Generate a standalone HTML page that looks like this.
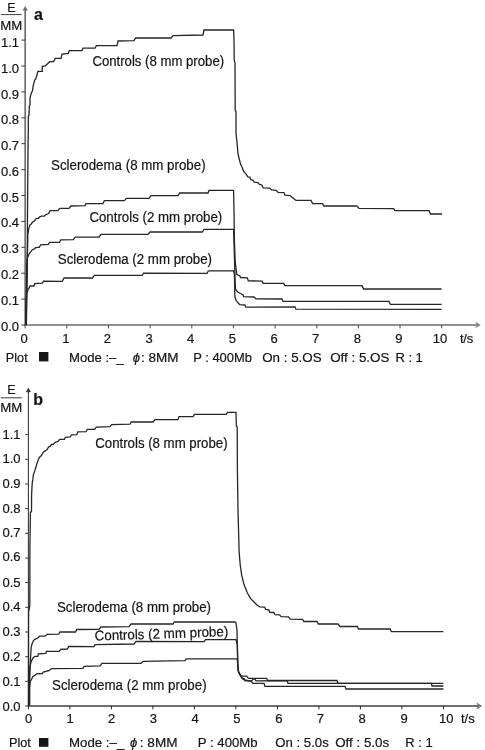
<!DOCTYPE html>
<html><head><meta charset="utf-8"><title>Figure</title><style>
html,body{margin:0;padding:0;background:#fff;width:485px;height:750px;overflow:hidden}
svg{display:block}
text{font-family:"Liberation Sans",Arial,Helvetica,sans-serif;fill:#141414;stroke:#141414;stroke-width:0.2px}
</style></head><body>
<svg width="485" height="750" viewBox="0 0 485 750">
<line x1="25.2" y1="8" x2="25.2" y2="325.8" stroke="#6e6e6e" stroke-width="1.7"/>
<path d="M23.1,10.2 L25.2,6.6 L27.3,10.2 Z" fill="#6e6e6e" stroke="#6e6e6e" stroke-width="0.6" stroke-linejoin="round"/>
<line x1="24.4" y1="325" x2="478.5" y2="325" stroke="#6e6e6e" stroke-width="1.7"/>
<path d="M475.6,322.6 L479.6,325 L475.6,327.4" fill="none" stroke="#6e6e6e" stroke-width="1.1"/>
<line x1="21.4" y1="325.0" x2="25" y2="325.0" stroke="#3a3a3a" stroke-width="1"/>
<line x1="21.4" y1="299.1" x2="25" y2="299.1" stroke="#3a3a3a" stroke-width="1"/>
<line x1="21.4" y1="273.2" x2="25" y2="273.2" stroke="#3a3a3a" stroke-width="1"/>
<line x1="21.4" y1="247.3" x2="25" y2="247.3" stroke="#3a3a3a" stroke-width="1"/>
<line x1="21.4" y1="221.4" x2="25" y2="221.4" stroke="#3a3a3a" stroke-width="1"/>
<line x1="21.4" y1="195.5" x2="25" y2="195.5" stroke="#3a3a3a" stroke-width="1"/>
<line x1="21.4" y1="169.6" x2="25" y2="169.6" stroke="#3a3a3a" stroke-width="1"/>
<line x1="21.4" y1="143.7" x2="25" y2="143.7" stroke="#3a3a3a" stroke-width="1"/>
<line x1="21.4" y1="117.8" x2="25" y2="117.8" stroke="#3a3a3a" stroke-width="1"/>
<line x1="21.4" y1="91.9" x2="25" y2="91.9" stroke="#3a3a3a" stroke-width="1"/>
<line x1="21.4" y1="66.0" x2="25" y2="66.0" stroke="#3a3a3a" stroke-width="1"/>
<line x1="21.4" y1="40.1" x2="25" y2="40.1" stroke="#3a3a3a" stroke-width="1"/>
<line x1="25.2" y1="325" x2="25.2" y2="328.4" stroke="#4a4a4a" stroke-width="1"/>
<line x1="66.8" y1="325" x2="66.8" y2="328.4" stroke="#4a4a4a" stroke-width="1"/>
<line x1="108.5" y1="325" x2="108.5" y2="328.4" stroke="#4a4a4a" stroke-width="1"/>
<line x1="150.1" y1="325" x2="150.1" y2="328.4" stroke="#4a4a4a" stroke-width="1"/>
<line x1="191.8" y1="325" x2="191.8" y2="328.4" stroke="#4a4a4a" stroke-width="1"/>
<line x1="233.4" y1="325" x2="233.4" y2="328.4" stroke="#4a4a4a" stroke-width="1"/>
<line x1="275.1" y1="325" x2="275.1" y2="328.4" stroke="#4a4a4a" stroke-width="1"/>
<line x1="316.8" y1="325" x2="316.8" y2="328.4" stroke="#4a4a4a" stroke-width="1"/>
<line x1="358.4" y1="325" x2="358.4" y2="328.4" stroke="#4a4a4a" stroke-width="1"/>
<line x1="400.0" y1="325" x2="400.0" y2="328.4" stroke="#4a4a4a" stroke-width="1"/>
<line x1="441.7" y1="325" x2="441.7" y2="328.4" stroke="#4a4a4a" stroke-width="1"/>
<line x1="0.8" y1="14.6" x2="21.6" y2="14.6" stroke="#3c3c3c" stroke-width="1"/>
<line x1="28.4" y1="390" x2="28.4" y2="706.5" stroke="#3a3a3a" stroke-width="1.1"/>
<path d="M26.2,391.9 L28.4,387.9 L30.6,391.9 Z" fill="#3a3a3a" stroke="#3a3a3a" stroke-width="0.5"/>
<line x1="28" y1="706" x2="479" y2="706" stroke="#707070" stroke-width="1.8"/>
<path d="M476.8,703.6 L481,706 L476.8,708.4" fill="none" stroke="#606060" stroke-width="1.1"/>
<line x1="25.2" y1="706.0" x2="28.4" y2="706.0" stroke="#3a3a3a" stroke-width="1"/>
<line x1="25.2" y1="681.3" x2="28.4" y2="681.3" stroke="#3a3a3a" stroke-width="1"/>
<line x1="25.2" y1="656.7" x2="28.4" y2="656.7" stroke="#3a3a3a" stroke-width="1"/>
<line x1="25.2" y1="632.0" x2="28.4" y2="632.0" stroke="#3a3a3a" stroke-width="1"/>
<line x1="25.2" y1="607.3" x2="28.4" y2="607.3" stroke="#3a3a3a" stroke-width="1"/>
<line x1="25.2" y1="582.6" x2="28.4" y2="582.6" stroke="#3a3a3a" stroke-width="1"/>
<line x1="25.2" y1="558.0" x2="28.4" y2="558.0" stroke="#3a3a3a" stroke-width="1"/>
<line x1="25.2" y1="533.3" x2="28.4" y2="533.3" stroke="#3a3a3a" stroke-width="1"/>
<line x1="25.2" y1="508.6" x2="28.4" y2="508.6" stroke="#3a3a3a" stroke-width="1"/>
<line x1="25.2" y1="484.0" x2="28.4" y2="484.0" stroke="#3a3a3a" stroke-width="1"/>
<line x1="25.2" y1="459.3" x2="28.4" y2="459.3" stroke="#3a3a3a" stroke-width="1"/>
<line x1="25.2" y1="434.6" x2="28.4" y2="434.6" stroke="#3a3a3a" stroke-width="1"/>
<line x1="28.4" y1="706" x2="28.4" y2="709.4" stroke="#2a2a2a" stroke-width="1"/>
<line x1="69.9" y1="706" x2="69.9" y2="709.4" stroke="#2a2a2a" stroke-width="1"/>
<line x1="111.4" y1="706" x2="111.4" y2="709.4" stroke="#2a2a2a" stroke-width="1"/>
<line x1="152.9" y1="706" x2="152.9" y2="709.4" stroke="#2a2a2a" stroke-width="1"/>
<line x1="194.4" y1="706" x2="194.4" y2="709.4" stroke="#2a2a2a" stroke-width="1"/>
<line x1="235.9" y1="706" x2="235.9" y2="709.4" stroke="#2a2a2a" stroke-width="1"/>
<line x1="277.4" y1="706" x2="277.4" y2="709.4" stroke="#2a2a2a" stroke-width="1"/>
<line x1="318.9" y1="706" x2="318.9" y2="709.4" stroke="#2a2a2a" stroke-width="1"/>
<line x1="360.4" y1="706" x2="360.4" y2="709.4" stroke="#2a2a2a" stroke-width="1"/>
<line x1="401.9" y1="706" x2="401.9" y2="709.4" stroke="#2a2a2a" stroke-width="1"/>
<line x1="443.4" y1="706" x2="443.4" y2="709.4" stroke="#2a2a2a" stroke-width="1"/>
<line x1="0.8" y1="397.8" x2="21.8" y2="397.8" stroke="#3c3c3c" stroke-width="1"/>
<rect x="39" y="352" width="9.4" height="9.4" fill="#161616"/>
<rect x="39" y="738" width="9.4" height="8.8" fill="#161616"/>
<polyline points="26.2,325.0 26.8,290.0 27.3,250.0 27.6,200.0 28.0,150.0 28.3,130.0 28.3,116.3 29.0,115.3 29.3,106.0 30.0,105.0 30.0,98.0 31.0,94.0 32.7,90.0 33.0,86.7 34.0,82.7 34.7,80.0 35.9,78.7 37.9,71.3 42.3,71.3 42.3,66.3 45.3,65.8 46.8,64.4 49.7,61.7 53.7,61.7 55.2,58.4 61.1,58.4 62.1,54.0 68.4,53.5 69.2,50.6 82.0,50.6 83.0,48.2 95.0,48.2 96.4,45.6 117.0,45.6 118.0,41.0 134.0,40.6 135.6,38.0 171.0,38.0 173.0,35.6 203.0,35.0 204.0,30.0 233.6,30.0 234.0,40.0 234.2,60.0 235.0,63.0 235.2,110.0 236.0,112.0 236.0,134.0 237.0,142.0 238.0,154.0 239.5,160.0 240.5,164.0 242.0,167.0 243.4,170.9 244.4,172.4 245.9,173.9 247.9,176.8 249.9,177.1 250.9,179.6 252.8,180.1 254.3,182.2 257.8,182.6 259.3,184.3 261.8,185.0 263.2,187.8 269.7,188.2 271.7,189.9 276.1,190.3 278.1,192.4 284.0,192.6 285.0,195.2 290.0,195.6 293.0,198.0 296.0,200.4 311.0,200.4 312.6,203.6 322.6,203.6 324.0,206.0 357.0,206.0 359.0,208.4 393.6,208.6 395.0,210.6 429.0,210.6 430.4,214.0 442.0,214.0" fill="none" stroke="#262626" stroke-width="1.3"/>
<polyline points="26.4,325.0 26.8,290.0 27.4,255.0 27.8,240.0 27.8,234.6 28.6,229.7 29.4,226.4 30.2,224.7 31.5,223.9 32.3,222.3 33.5,221.6 34.8,220.6 35.6,219.1 36.8,218.3 38.5,218.3 39.7,216.9 41.4,216.1 44.3,216.1 45.5,214.8 47.6,214.0 48.8,213.2 50.0,210.6 57.9,210.6 59.1,209.1 60.4,208.4 69.0,208.4 70.9,206.0 85.0,205.6 86.0,203.6 103.0,203.6 104.4,200.6 124.4,200.6 126.4,198.4 149.0,198.4 151.0,195.6 178.0,195.6 179.6,193.0 208.0,193.0 209.0,190.4 233.6,190.4 234.0,211.0 234.4,240.0 235.2,262.0 236.0,268.0 236.8,274.4 238.0,275.0 239.8,275.6 240.5,277.5 247.3,277.8 248.3,280.8 262.1,281.2 263.1,283.3 283.6,283.4 285.0,285.6 362.0,285.6 363.6,289.0 441.6,289.0" fill="none" stroke="#262626" stroke-width="1.3"/>
<polyline points="26.0,325.0 26.4,290.0 26.9,265.0 27.1,259.2 28.2,255.9 29.4,253.4 31.1,251.4 32.3,249.7 34.4,248.9 35.6,247.7 37.7,247.3 39.3,247.3 40.6,244.8 48.4,244.4 49.6,242.3 59.5,242.3 60.8,239.8 73.3,239.6 75.2,237.1 99.0,237.0 101.0,234.4 148.0,234.4 150.0,232.0 202.4,232.0 204.0,229.4 233.6,229.4 234.2,250.0 234.8,270.0 235.2,285.0 235.5,289.2 237.4,291.7 240.5,293.5 243.0,294.8 243.6,296.6 254.0,297.0 255.9,298.9 282.0,299.0 283.0,301.4 389.0,301.4 390.4,304.4 441.6,304.4" fill="none" stroke="#262626" stroke-width="1.3"/>
<polyline points="25.6,325.0 25.8,310.0 26.0,299.2 26.8,292.0 27.6,291.2 28.0,289.6 29.2,288.0 30.0,286.0 34.0,286.0 34.8,283.6 42.4,283.2 43.6,281.2 62.2,281.3 64.1,278.0 92.4,278.0 94.4,275.4 142.0,275.4 143.6,273.2 207.0,273.4 208.4,270.8 233.6,270.8 234.4,275.0 234.9,296.6 236.1,300.4 238.0,302.8 239.8,304.7 244.8,305.0 245.8,307.2 295.0,306.8 296.0,309.2 441.6,309.4" fill="none" stroke="#262626" stroke-width="1.3"/>
<polyline points="28.5,706.0 28.6,612.0 29.8,606.0 29.9,548.0 30.4,512.8 31.5,511.2 31.6,494.5 32.2,483.4 32.8,479.7 33.4,474.7 34.7,471.0 35.9,467.3 36.6,464.6 37.8,461.3 38.7,458.8 39.5,457.2 40.7,456.3 42.0,454.7 43.2,452.2 44.4,451.4 46.1,450.2 47.3,449.3 48.6,446.9 50.2,446.4 51.4,444.4 53.5,444.4 54.7,442.7 56.4,441.9 58.0,441.5 59.7,439.4 64.5,439.3 65.4,437.3 70.3,436.9 71.5,434.8 76.9,434.6 77.7,431.9 86.0,431.7 87.2,429.4 94.6,429.4 96.3,427.1 110.0,426.6 111.6,424.6 130.0,424.2 131.2,422.0 153.0,422.0 155.0,419.6 178.0,419.6 179.0,416.6 193.0,416.6 194.4,414.4 226.4,414.4 227.4,412.4 236.0,412.4 236.4,426.0 237.2,427.0 237.4,470.0 238.0,510.0 238.6,532.0 239.1,551.6 240.2,564.8 241.6,574.7 244.0,584.6 247.3,592.8 250.6,598.6 254.8,602.7 257.2,605.2 259.7,606.8 264.7,607.1 265.5,609.3 268.8,609.8 269.6,612.3 273.7,612.5 274.9,614.6 279.5,614.9 281.2,616.7 288.6,616.9 290.2,619.2 302.6,619.4 303.8,621.5 317.0,621.4 318.4,624.0 338.0,624.0 340.0,626.5 357.3,626.5 358.5,629.0 390.2,629.0 391.4,631.7 443.4,631.7" fill="none" stroke="#262626" stroke-width="1.3"/>
<polyline points="28.9,706.0 29.6,680.0 30.4,660.0 31.0,650.8 31.2,647.1 32.2,643.4 33.4,640.9 34.7,639.4 36.5,638.7 38.4,637.5 39.6,636.2 45.2,636.2 47.0,634.4 58.8,634.1 60.0,632.0 75.5,632.0 76.7,629.5 99.0,629.4 101.0,627.0 129.0,626.6 131.0,624.0 173.0,624.0 174.4,622.0 235.0,622.0 236.0,623.0 237.0,630.0 237.4,650.0 237.7,665.0 238.1,670.8 239.7,673.7 241.4,676.1 246.7,676.1 248.4,678.3 266.5,678.4 267.8,680.5 337.0,680.5 338.0,683.3 443.4,683.4" fill="none" stroke="#262626" stroke-width="1.3"/>
<polyline points="28.9,706.0 29.7,668.0 31.0,662.0 32.8,658.2 34.7,656.4 37.8,656.4 38.4,653.9 45.8,653.5 46.4,651.4 59.4,651.4 60.6,649.3 67.4,649.0 68.7,646.5 94.0,646.6 95.0,644.6 134.0,644.0 136.0,641.4 204.0,641.6 205.6,639.6 236.0,639.6 237.4,645.0 237.8,665.0 238.6,672.0 240.0,675.0 242.2,678.2 244.2,678.6 245.0,680.8 251.7,680.8 253.0,679.2 255.0,679.2 256.0,680.8 287.0,680.6 288.0,683.3 431.4,683.4 432.0,686.0 443.4,686.0" fill="none" stroke="#262626" stroke-width="1.3"/>
<polyline points="28.9,706.0 29.7,704.4 29.7,687.1 30.3,681.5 31.6,679.1 32.8,676.6 34.7,675.4 36.5,673.8 42.1,673.5 43.3,672.0 49.5,670.4 51.4,668.6 82.9,668.4 84.1,666.4 100.0,665.8 102.0,663.4 141.0,663.4 143.0,661.4 185.0,660.6 186.4,658.8 237.2,658.8 237.8,665.0 238.6,672.0 239.9,674.7 242.4,678.7 244.2,679.8 250.8,681.1 252.1,682.3 252.9,683.3 264.0,683.3 264.9,686.3 345.0,686.3 346.0,689.0 443.4,689.0" fill="none" stroke="#262626" stroke-width="1.3"/>
<text id="ay0" x="19.00" y="330.95" text-anchor="end" style="font-size:13.0px">0.0</text>
<text id="ay1" x="19.00" y="304.95" text-anchor="end" style="font-size:13.0px">0.1</text>
<text id="ay2" x="19.00" y="279.25" text-anchor="end" style="font-size:13.0px">0.2</text>
<text id="ay3" x="19.00" y="253.25" text-anchor="end" style="font-size:13.0px">0.3</text>
<text id="ay4" x="19.00" y="227.45" text-anchor="end" style="font-size:13.0px">0.4</text>
<text id="ay5" x="19.00" y="201.75" text-anchor="end" style="font-size:13.0px">0.5</text>
<text id="ay6" x="19.00" y="175.95" text-anchor="end" style="font-size:13.0px">0.6</text>
<text id="ay7" x="19.00" y="150.25" text-anchor="end" style="font-size:13.0px">0.7</text>
<text id="ay8" x="19.00" y="124.45" text-anchor="end" style="font-size:13.0px">0.8</text>
<text id="ay9" x="19.00" y="98.65" text-anchor="end" style="font-size:13.0px">0.9</text>
<text id="ay10" x="19.00" y="72.85" text-anchor="end" style="font-size:13.0px">1.0</text>
<text id="ay11" x="19.00" y="46.95" text-anchor="end" style="font-size:13.0px">1.1</text>
<text id="ax0" x="24.10" y="343.10" text-anchor="middle" style="font-size:13.0px">0</text>
<text id="ax1" x="65.75" y="343.10" text-anchor="middle" style="font-size:13.0px">1</text>
<text id="ax2" x="107.40" y="343.10" text-anchor="middle" style="font-size:13.0px">2</text>
<text id="ax3" x="149.05" y="343.10" text-anchor="middle" style="font-size:13.0px">3</text>
<text id="ax4" x="190.70" y="343.10" text-anchor="middle" style="font-size:13.0px">4</text>
<text id="ax5" x="232.35" y="343.10" text-anchor="middle" style="font-size:13.0px">5</text>
<text id="ax6" x="274.00" y="343.10" text-anchor="middle" style="font-size:13.0px">6</text>
<text id="ax7" x="315.65" y="343.10" text-anchor="middle" style="font-size:13.0px">7</text>
<text id="ax8" x="357.30" y="343.10" text-anchor="middle" style="font-size:13.0px">8</text>
<text id="ax9" x="398.95" y="343.10" text-anchor="middle" style="font-size:13.0px">9</text>
<text id="ax10" x="440.00" y="343.10" text-anchor="middle" style="font-size:13.0px">10</text>
<text id="ats" x="460.00" y="342.90" textLength="13.13" lengthAdjust="spacing" style="font-size:13.0px">t/s</text>
<text id="aE" x="11.40" y="12.20" text-anchor="middle" style="font-size:12.6px">E</text>
<text id="aMM" x="11.20" y="30.30" text-anchor="middle" style="font-size:13.2px">MM</text>
<text id="alab" x="34.00" y="19.70" style="font-size:16px;font-weight:bold">a</text>
<text id="acl1" x="92.42" y="65.90" textLength="131.68" lengthAdjust="spacingAndGlyphs" style="font-size:14.0px">Controls (8 mm probe)</text>
<text id="acl2" x="51.00" y="170.00" textLength="154.59" lengthAdjust="spacingAndGlyphs" style="font-size:14.0px">Sclerodema (8 mm probe)</text>
<text id="acl3" x="89.40" y="221.60" textLength="132.84" lengthAdjust="spacingAndGlyphs" style="font-size:14.0px">Controls (2 mm probe)</text>
<text id="acl4" x="57.83" y="264.00" textLength="154.19" lengthAdjust="spacingAndGlyphs" style="font-size:14.0px">Sclerodema (2 mm probe)</text>
<text id="af1" x="5.84" y="361.70" textLength="21.85" lengthAdjust="spacingAndGlyphs" style="font-size:13.5px">Plot</text>
<text id="af2" x="69.03" y="361.70" textLength="54.69" lengthAdjust="spacingAndGlyphs" style="font-size:13.5px">Mode :–_</text>
<text id="af3" x="132.80" y="361.70" style="font-size:13.0px;font-style:italic">ϕ</text>
<text id="af4" x="141.00" y="361.70" textLength="37.52" lengthAdjust="spacingAndGlyphs" style="font-size:13.5px">: 8MM</text>
<text id="af5" x="193.22" y="361.70" textLength="58.68" lengthAdjust="spacingAndGlyphs" style="font-size:13.5px">P : 400Mb</text>
<text id="af6" x="262.20" y="361.70" textLength="59.42" lengthAdjust="spacingAndGlyphs" style="font-size:13.5px">On : 5.OS</text>
<text id="af7" x="330.20" y="361.70" textLength="59.17" lengthAdjust="spacingAndGlyphs" style="font-size:13.5px">Off : 5.OS</text>
<text id="af8" x="395.40" y="361.70" style="font-size:13.0px">R : 1</text>
<text id="by0" x="20.50" y="710.85" text-anchor="end" style="font-size:13.0px">0.0</text>
<text id="by1" x="20.50" y="686.05" text-anchor="end" style="font-size:13.0px">0.1</text>
<text id="by2" x="20.50" y="660.95" text-anchor="end" style="font-size:13.0px">0.2</text>
<text id="by3" x="20.50" y="636.25" text-anchor="end" style="font-size:13.0px">0.3</text>
<text id="by4" x="20.50" y="611.35" text-anchor="end" style="font-size:13.0px">0.4</text>
<text id="by5" x="20.50" y="586.75" text-anchor="end" style="font-size:13.0px">0.5</text>
<text id="by6" x="20.50" y="561.45" text-anchor="end" style="font-size:13.0px">0.6</text>
<text id="by7" x="20.50" y="536.95" text-anchor="end" style="font-size:13.0px">0.7</text>
<text id="by8" x="20.50" y="513.25" text-anchor="end" style="font-size:13.0px">0.8</text>
<text id="by9" x="20.50" y="487.95" text-anchor="end" style="font-size:13.0px">0.9</text>
<text id="by10" x="20.50" y="463.45" text-anchor="end" style="font-size:13.0px">1.0</text>
<text id="by11" x="20.50" y="439.25" text-anchor="end" style="font-size:13.0px">1.1</text>
<text id="bx0" x="28.70" y="722.70" text-anchor="middle" style="font-size:13.0px">0</text>
<text id="bx1" x="70.20" y="722.70" text-anchor="middle" style="font-size:13.0px">1</text>
<text id="bx2" x="111.70" y="722.70" text-anchor="middle" style="font-size:13.0px">2</text>
<text id="bx3" x="153.40" y="722.70" text-anchor="middle" style="font-size:13.0px">3</text>
<text id="bx4" x="195.20" y="722.70" text-anchor="middle" style="font-size:13.0px">4</text>
<text id="bx5" x="236.90" y="722.70" text-anchor="middle" style="font-size:13.0px">5</text>
<text id="bx6" x="278.80" y="722.70" text-anchor="middle" style="font-size:13.0px">6</text>
<text id="bx7" x="320.40" y="722.70" text-anchor="middle" style="font-size:13.0px">7</text>
<text id="bx8" x="362.20" y="722.70" text-anchor="middle" style="font-size:13.0px">8</text>
<text id="bx9" x="404.10" y="722.70" text-anchor="middle" style="font-size:13.0px">9</text>
<text id="bx10" x="446.30" y="722.70" text-anchor="middle" style="font-size:13.0px">10</text>
<text id="bts" x="461.00" y="722.70" textLength="13.73" lengthAdjust="spacing" style="font-size:13.0px">t/s</text>
<text id="bE" x="11.40" y="393.90" text-anchor="middle" style="font-size:12.6px">E</text>
<text id="bMM" x="11.20" y="412.30" text-anchor="middle" style="font-size:13.2px">MM</text>
<text id="blab" x="33.20" y="404.80" style="font-size:16px;font-weight:bold">b</text>
<text id="bcl1" x="95.22" y="447.60" textLength="132.39" lengthAdjust="spacingAndGlyphs" style="font-size:14.0px">Controls (8 mm probe)</text>
<text id="bcl2" x="57.00" y="611.80" textLength="153.99" lengthAdjust="spacingAndGlyphs" style="font-size:14.0px">Sclerodema (8 mm probe)</text>
<text id="bcl3" x="94.83" y="640.60" transform="rotate(-1.9 94.83 640.60)" textLength="133.60" lengthAdjust="spacingAndGlyphs" style="font-size:14.0px">Controls (2 mm probe)</text>
<text id="bcl4" x="52.00" y="690.40" textLength="154.59" lengthAdjust="spacingAndGlyphs" style="font-size:14.0px">Sclerodema (2 mm probe)</text>
<text id="bf1" x="9.06" y="747.00" textLength="21.85" lengthAdjust="spacingAndGlyphs" style="font-size:13.5px">Plot</text>
<text id="bf2" x="69.02" y="747.00" textLength="55.29" lengthAdjust="spacingAndGlyphs" style="font-size:13.5px">Mode :–_</text>
<text id="bf3" x="130.00" y="747.00" style="font-size:13.0px;font-style:italic">ϕ</text>
<text id="bf4" x="139.80" y="747.00" textLength="37.72" lengthAdjust="spacingAndGlyphs" style="font-size:13.5px">: 8MM</text>
<text id="bf5" x="197.81" y="747.00" textLength="59.89" lengthAdjust="spacingAndGlyphs" style="font-size:13.5px">P : 400Mb</text>
<text id="bf6" x="275.21" y="747.00" textLength="53.56" lengthAdjust="spacingAndGlyphs" style="font-size:13.5px">On : 5.0s</text>
<text id="bf7" x="335.20" y="747.00" textLength="53.93" lengthAdjust="spacingAndGlyphs" style="font-size:13.5px">Off : 5.0s</text>
<text id="bf8" x="405.30" y="747.00" style="font-size:13.0px">R : 1</text>
</svg>
</body></html>
